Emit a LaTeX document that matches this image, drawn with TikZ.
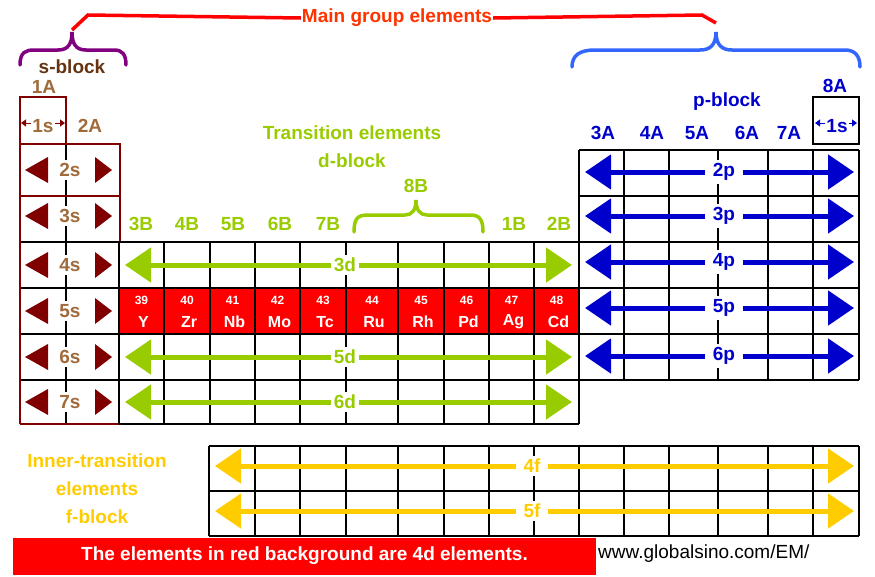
\documentclass[tikz,border=0pt]{standalone}
\usepackage{fontspec}
\setmainfont{Liberation Sans}
\usetikzlibrary{arrows.meta}
\definecolor{mred}{HTML}{FF3300}
\definecolor{spur}{HTML}{800080}
\definecolor{sbrown}{HTML}{663311}
\definecolor{lbrown}{HTML}{A06A3A}
\definecolor{dred}{HTML}{800000}
\definecolor{tgreen}{HTML}{99CC00}
\definecolor{pblue}{HTML}{0000CC}
\definecolor{bblue}{HTML}{3366FF}
\definecolor{fyel}{HTML}{FFCC00}
\begin{document}
\begin{tikzpicture}[x=1pt,y=-1pt,
  txt/.style={font=\bfseries\fontsize{19}{21}\selectfont,inner sep=1pt},
  lab/.style={txt,fill=white,inner sep=3pt},
  grid/.style={line width=2.4pt,black},
  garr/.style={line width=5pt,tgreen,{Triangle[length=26pt,width=34pt]}-{Triangle[length=26pt,width=34pt]}},
  barr/.style={line width=5pt,pblue,{Triangle[length=26pt,width=34pt]}-{Triangle[length=26pt,width=34pt]}},
  farr/.style={line width=5pt,fyel,{Triangle[length=26pt,width=34pt]}-{Triangle[length=26pt,width=34pt]}},
  brace/.style={line width=3.5pt,line cap=round},
  cell/.style={text=white,font=\bfseries,align=center,inner sep=0pt}]
\useasboundingbox (0,0) rectangle (875,576);
% ---------- s-block ----------
\draw[grid] (20,242) -- (120,242) (20,288) -- (120,288) (20,334) -- (120,334) (20,380) -- (120,380);
\draw[line width=2pt] (66,144) -- (66,424);
\draw[line width=2pt,dred] (20,424) -- (20,97) -- (66,97) -- (66,144);
\draw[line width=2pt,dred] (20,144) -- (120,144) -- (120,242) (20,196) -- (120,196) (20,424) -- (120,424);
\foreach \n/\y in {2/170,3/216,4/265,5/311,6/357,7/402}{
  \fill[dred] (25,\y) -- (48,\y-13) -- (48,\y+13) -- cycle;
  \fill[dred] (112,\y) -- (95,\y-13) -- (95,\y+13) -- cycle;
  \node[lab,text=lbrown] (s\n) at (70,\y) {\n s};
}
\coordinate (s1l) at (21,123); \coordinate (s1r) at (65,123);
\draw[dred,line width=1pt,{Triangle[length=5pt,width=7pt]}-{Triangle[length=5pt,width=7pt]}] (s1l) -- (s1r);
\node[lab,inner sep=1pt,text=lbrown] (s1) at (43,126) {1s};
\node[txt,text=lbrown] (g1A) at (44,87) {1A};
\node[txt,text=lbrown] (g2A) at (90,126) {2A};
\node[txt,text=sbrown] (sblk) at (72,67) {s-block};
% ---------- d-block ----------
\fill[red] (119,288) rectangle (579,334);
\foreach \x in {119,164,210,255,300,346,398,444,489,534,579}
  \draw[grid] (\x,242) -- (\x,424);
\foreach \y in {242,288,334,380,424}
  \draw[grid] (119,\y) -- (579,\y);
\foreach \i/\xa/\xb/\z/\s in {1/119/164/39/Y,2/164/210/40/Zr,3/210/255/41/Nb,4/255/300/42/Mo,5/300/346/43/Tc,6/346/398/44/Ru,7/398/444/45/Rh,8/444/489/46/Pd,9/489/534/47/Ag,10/534/579/48/Cd}{
  \node[cell,font=\bfseries\fontsize{12}{13}\selectfont] (z\i) at ({(\xa+\xb)/2},300) {\z};
  \node[cell,font=\bfseries\fontsize{16}{17}\selectfont] (e\i) at ({(\xa+\xb)/2+2},322) {\s};
}
\foreach \n/\y in {3/265,5/357,6/402}{
  \coordinate (d\n l) at (125,\y); \coordinate (d\n r) at (572,\y);
  \draw[garr] (d\n l) -- (d\n r);
  \node[lab,text=tgreen] (d\n) at (345,\y) {\n d};
}
\foreach \g/\x in {3B/141,4B/187,5B/233,6B/280,7B/328,1B/514,2B/559}
  \node[txt,text=tgreen] (g\g) at (\x,224) {\g};
\node[txt,text=tgreen] (trans) at (352,133) {Transition elements};
\node[txt,text=tgreen] (dblk) at (352,161) {d-block};
\node[txt,text=tgreen] (g8B) at (416,186) {8B};
\draw[brace,tgreen] (354,232) .. controls (354,215) and (360,215) .. (372,215) -- (405,215) .. controls (412,215) and (416,210) .. (416,200) .. controls (416,210) and (420,215) .. (427,215) -- (470,215) .. controls (480,215) and (483,220) .. (483,232);
% ---------- p-block ----------
\foreach \x in {579,624,669,718,768,813,859}
  \draw[grid] (\x,150) -- (\x,380);
\foreach \y in {150,196,242,288,334,380}
  \draw[grid] (579,\y) -- (859,\y);
\foreach \n/\y in {2/172,3/216,4/262,5/308,6/356}{
  \coordinate (p\n l) at (585,\y); \coordinate (p\n r) at (854,\y);
  \draw[barr] (p\n l) -- (p\n r);
  \node[lab,text=pblue,inner xsep=8pt] (p\n) at (724,\y) {\n p};
}
\draw[line width=2pt] (813,97) rectangle (859,144);
\coordinate (p1l) at (815,123); \coordinate (p1r) at (857,123);
\draw[pblue,line width=1pt,{Triangle[length=5pt,width=7pt]}-{Triangle[length=5pt,width=7pt]}] (p1l) -- (p1r);
\node[lab,inner sep=1pt,text=pblue] (p1) at (837,126) {1s};
\foreach \g/\x in {3A/603,4A/652,5A/697,6A/747,7A/789}
  \node[txt,text=pblue] (g\g) at (\x,133) {\g};
\node[txt,text=pblue] (g8A) at (835,86) {8A};
\node[txt,text=pblue] (pblk) at (727,102) {p-block};
% ---------- f-block ----------
\foreach \x in {209,255,300,346,398,444,489,534,579,624,669,718,768,813,859}
  \draw[grid] (\x,446) -- (\x,536);
\foreach \y in {446,491,536}
  \draw[grid] (209,\y) -- (859,\y);
\foreach \n/\y in {4/466,5/511}{
  \coordinate (f\n l) at (215,\y); \coordinate (f\n r) at (854,\y);
  \draw[farr] (f\n l) -- (f\n r);
  \node[lab,text=fyel,inner xsep=8pt] (f\n) at (532,\y) {\n f};
}
\node[txt,text=fyel,align=center,font=\bfseries\fontsize{19}{28}\selectfont] (inner) at (97,489) {Inner-transition\\elements\\f-block};
% ---------- braces & title ----------
\draw[brace,spur] (20,65) .. controls (20,52) and (26,50) .. (34,50) -- (58,50) .. controls (68,50) and (72,44) .. (72,32) .. controls (72,44) and (76,50) .. (86,50) -- (114,50) .. controls (122,50) and (126,54) .. (126,65);
\draw[brace,bblue] (572,67) .. controls (572,55) and (580,50) .. (595,50) -- (700,50) .. controls (710,50) and (716,45) .. (716,32) .. controls (716,45) and (722,50) .. (732,50) -- (845,50) .. controls (855,50) and (860,56) .. (860,67);
\node[txt,text=mred] (main) at (397,18) {Main group elements};
\coordinate (mt1) at (72,30); \coordinate (mt2) at (716,23);
\draw[red,line width=3.5pt] (mt1) -- (88,15) -- (main.west);
\draw[red,line width=3.5pt] (main.east) -- (702,15) -- (mt2);
% ---------- footer ----------
\node[fill=red,text=white,font=\bfseries\fontsize{19}{21}\selectfont,minimum width=583pt,minimum height=37pt,inner sep=0pt] (note) at (304.5,556) {The elements in red background are 4d elements.};
\node[font=\fontsize{19}{21}\selectfont,anchor=west,inner sep=0pt] (url) at (598,554) {www.globalsino.com/EM/};
\end{tikzpicture}
\end{document}
